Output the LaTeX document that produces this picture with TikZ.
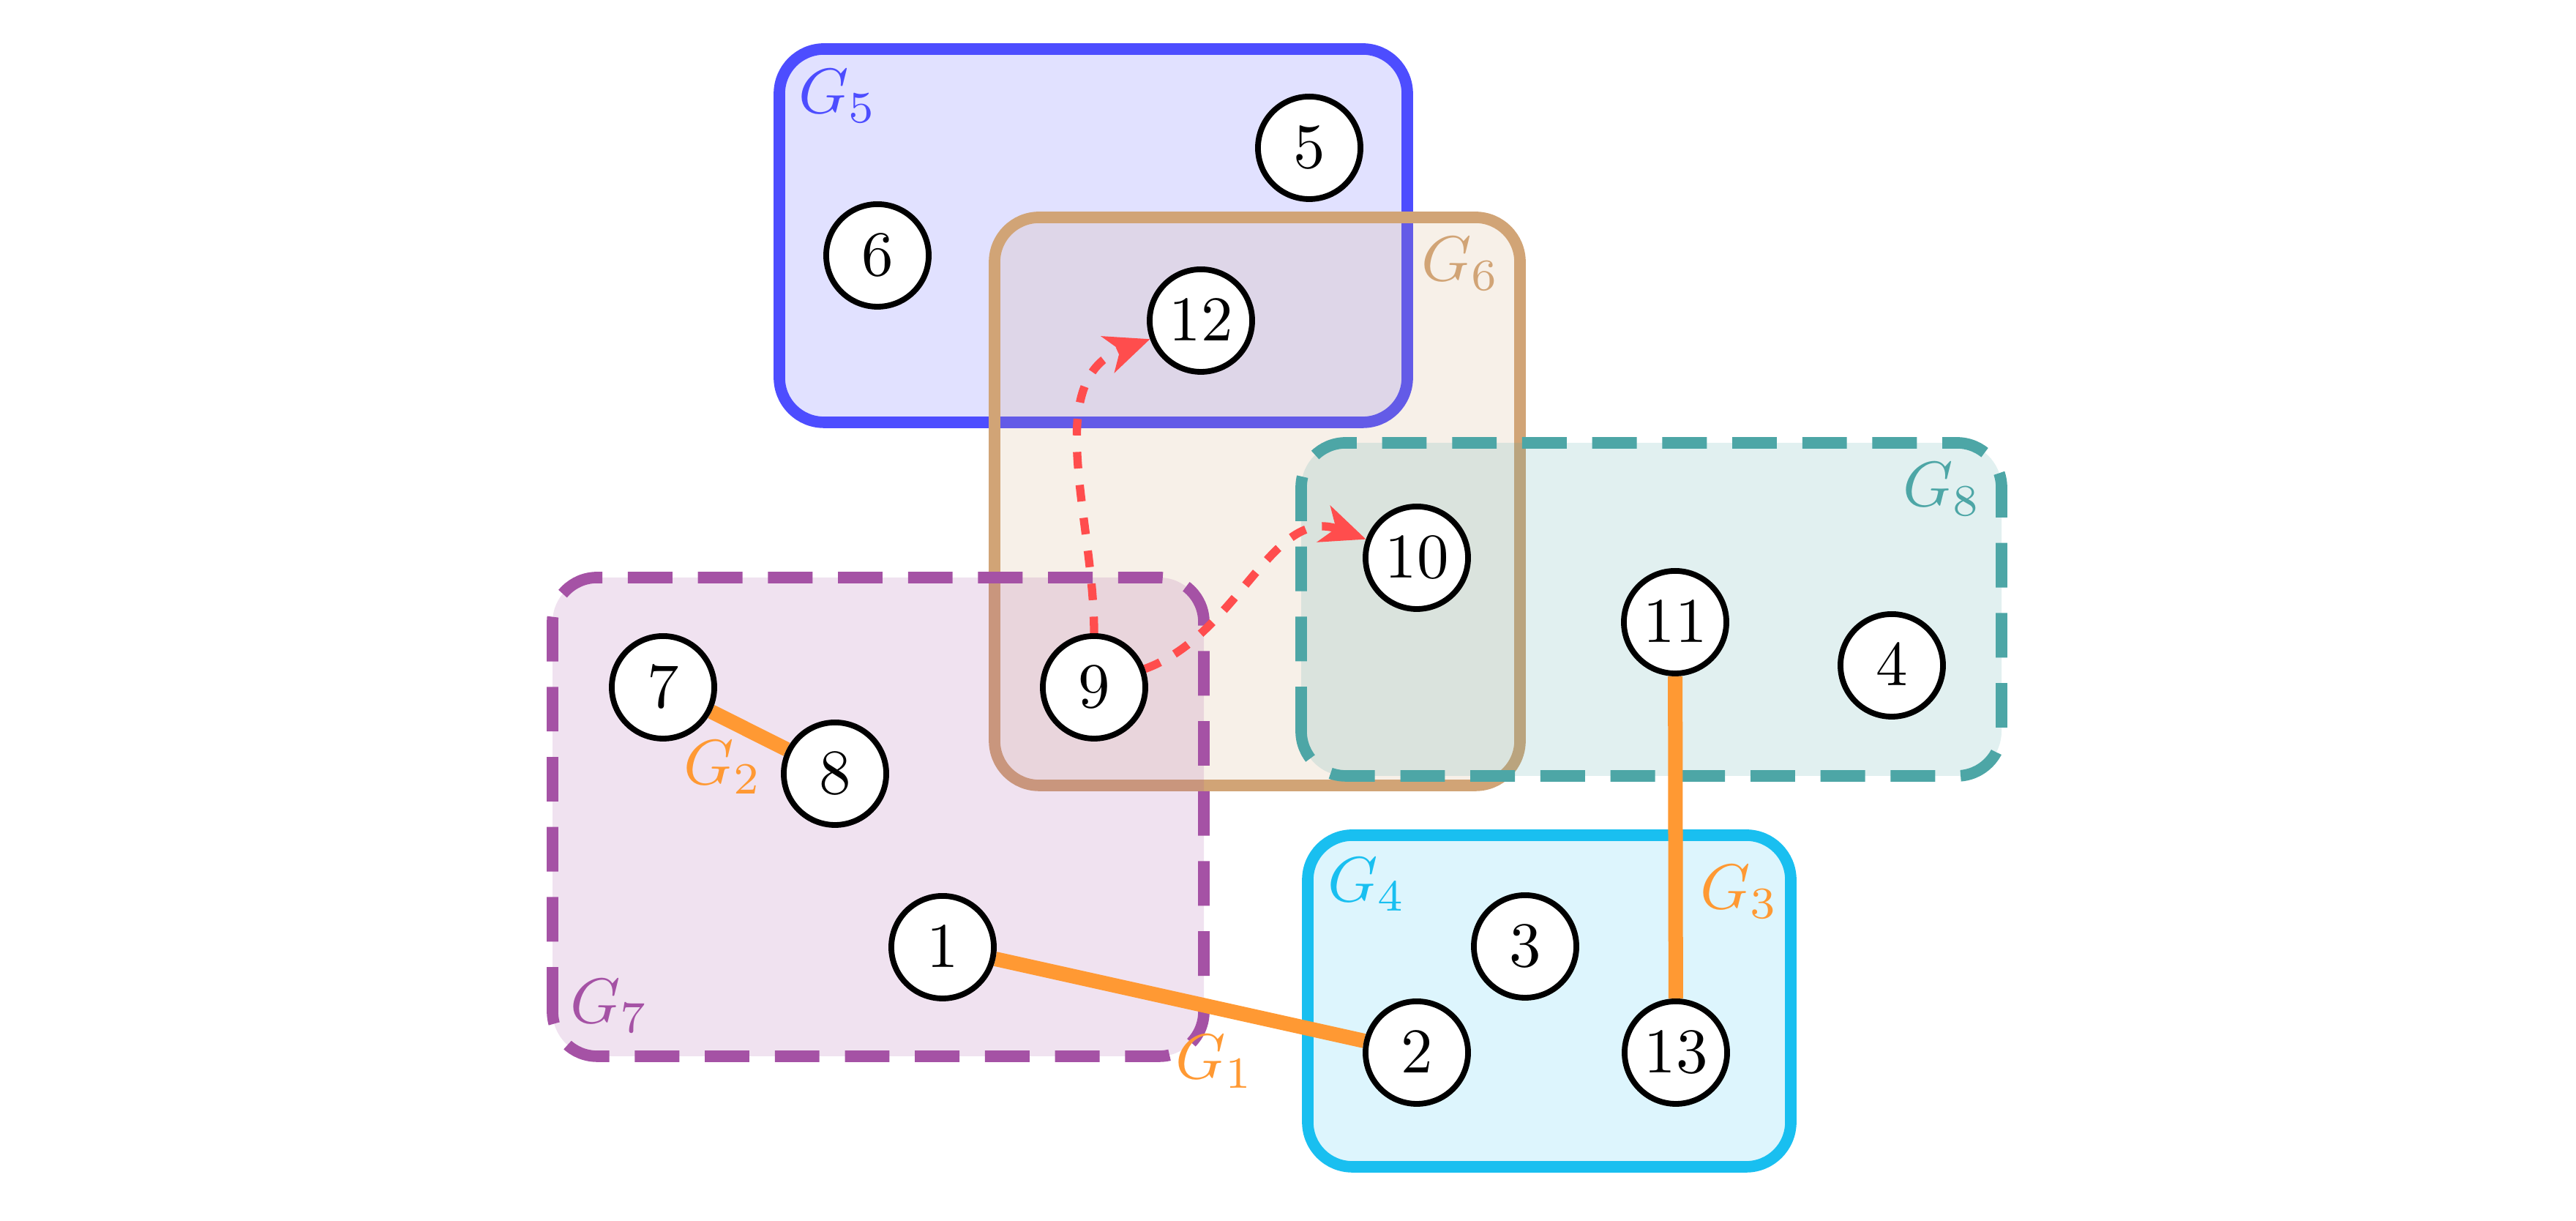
\documentclass[tikz,border=0pt]{standalone}
\usetikzlibrary{arrows.meta}
\pgfdeclarelayer{groups}
\pgfdeclarelayer{links}
\pgfsetlayers{groups,links,main}
\definecolor{cBlue}{RGB}{77,77,255}
\definecolor{cTan}{RGB}{209,164,118}
\definecolor{cPurp}{RGB}{165,82,165}
\definecolor{cTeal}{RGB}{77,166,166}
\definecolor{cCyan}{RGB}{25,191,240}
\definecolor{cOrange}{RGB}{255,153,51}
\definecolor{cRed}{RGB}{255,77,77}
\tikzset{
  vert/.style={circle,draw=black,line width=0.9pt,fill=white,minimum size=16.1pt,inner sep=0pt},
  grp/.style={line width=1.8pt,rounded corners=7pt,fill opacity=0.17},
  grpdash/.style={grp,dash pattern=on 7pt off 4pt},
  hedge/.style={draw=cOrange,line width=2.3pt},
  darrow/.style={draw=cRed,line width=1.3pt,dash pattern=on 2.6pt off 2.6pt,
    -{Stealth[length=7pt,width=6pt,inset=2pt]}},
  glabel/.style={inner sep=0pt}
}
\begin{document}
\begin{tikzpicture}[x=11.494pt,y=11.494pt]
\useasboundingbox (0,0) rectangle (35.2,16.68);
% groups
\begin{pgfonlayer}{groups}
\draw[grp,draw=cBlue,fill=cBlue] (10.65,10.91) rectangle (19.23,16.01);
\draw[grp,draw=cTan,fill=cTan] (13.59,5.95) rectangle (20.77,13.71);
\draw[grpdash,draw=cPurp,fill=cPurp] (7.55,2.25) rectangle (16.45,8.79);
\draw[grpdash,draw=cTeal,fill=cTeal] (17.78,6.08) rectangle (27.35,10.63);
\draw[grp,draw=cCyan,fill=cCyan,fill opacity=0.15] (17.87,0.74) rectangle (24.47,5.27);
\end{pgfonlayer}
% group labels
\node[glabel,text=cBlue] (lG5) at (11.45,15.37) {$G_5$};
\node[glabel,text=cTan] (lG6) at (19.96,13.08) {$G_6$};
\node[glabel,text=cPurp] (lG7) at (8.33,2.94) {$G_7$};
\node[glabel,text=cTeal] (lG8) at (26.54,10.00) {$G_8$};
\node[glabel,text=cCyan] (lG4) at (18.68,4.60) {$G_4$};
\node[glabel,text=cOrange] (lG1) at (16.60,2.18) {$G_1$};
\node[glabel,text=cOrange] (lG2) at (9.88,6.20) {$G_2$};
\node[glabel,text=cOrange] (lG3) at (23.77,4.50) {$G_3$};
% vertices
\node[vert] (n5) at (17.89,14.66) {$5$};
\node[vert] (n6) at (11.99,13.19) {$6$};
\node[vert] (n12) at (16.41,12.30) {$12$};
\node[vert] (n10) at (19.36,9.06) {$10$};
\node[vert] (n11) at (22.89,8.18) {$11$};
\node[vert] (n4) at (25.85,7.59) {$4$};
\node[vert] (n9) at (14.95,7.29) {$9$};
\node[vert] (n7) at (9.06,7.29) {$7$};
\node[vert] (n8) at (11.41,6.11) {$8$};
\node[vert] (n1) at (12.88,3.74) {$1$};
\node[vert] (n3) at (20.84,3.75) {$3$};
\node[vert] (n2) at (19.36,2.30) {$2$};
\node[vert] (n13) at (22.90,2.30) {$13$};
% edges (on a layer below the vertices)
\begin{pgfonlayer}{links}
\path[hedge] (n1) -- (n2);
\path[hedge] (n7) -- (n8);
\path[hedge] (n11) -- (n13);
\path[darrow] (n9) to[out=90,in=200] (n12);
\path[darrow] (n9) to[out=20,in=160] (n10);
\end{pgfonlayer}
\end{tikzpicture}
\end{document}
